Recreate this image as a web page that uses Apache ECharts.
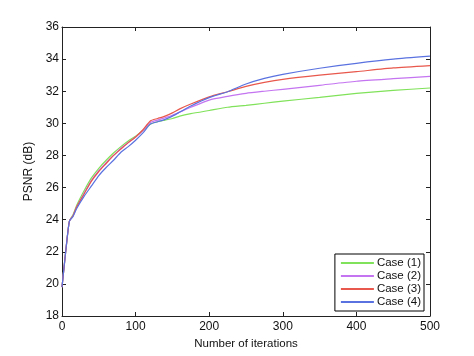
<!DOCTYPE html>
<html>
<head>
<meta charset="utf-8">
<script src="https://cdn.jsdelivr.net/npm/echarts@6/dist/echarts.min.js"></script>
<style>
html,body{margin:0;padding:0;background:#fff;}
#chart{width:474px;height:356px;}
</style>
</head>
<body>
<div id="chart"></div>
<script>
var iterations = [0, 5, 10, 15, 20, 30, 40, 50, 60, 70, 80, 90, 100, 110, 120, 130, 140, 150, 160, 175, 200, 225, 250, 275, 300, 350, 400, 450, 500];
var case1 = [19.8, 22.0, 23.9, 24.3, 24.9, 25.8, 26.6, 27.2, 27.7, 28.15, 28.55, 28.9, 29.2, 29.55, 29.95, 30.1, 30.2, 30.3, 30.45, 30.6, 30.8, 31.0, 31.12, 31.25, 31.38, 31.62, 31.87, 32.05, 32.2];
var case2 = [19.8, 22.0, 23.9, 24.25, 24.8, 25.65, 26.45, 27.05, 27.55, 28.0, 28.45, 28.8, 29.15, 29.55, 30.05, 30.2, 30.35, 30.5, 30.7, 31.0, 31.45, 31.68, 31.87, 32.0, 32.12, 32.37, 32.62, 32.78, 32.93];
var case3 = [19.8, 22.0, 23.9, 24.25, 24.8, 25.6, 26.4, 27.0, 27.5, 28.0, 28.4, 28.8, 29.15, 29.6, 30.15, 30.3, 30.45, 30.65, 30.9, 31.2, 31.65, 31.97, 32.3, 32.55, 32.74, 33.0, 33.22, 33.45, 33.6];
var case4 = [19.8, 22.0, 23.9, 24.2, 24.7, 25.45, 26.1, 26.75, 27.25, 27.7, 28.2, 28.55, 28.95, 29.4, 29.95, 30.1, 30.25, 30.45, 30.7, 31.08, 31.6, 31.97, 32.45, 32.8, 33.05, 33.43, 33.74, 34.0, 34.18];
var seriesNames = ['Case (1)', 'Case (2)', 'Case (3)', 'Case (4)'];
var seriesColors = ['#80e25a', '#c474f0', '#e8584c', '#5a72e0'];
var xLabel = 'Number of iterations';
var yLabel = 'PSNR (dB)';

function pairs(ys) {
  return iterations.map(function (x, i) { return [x, ys[i]]; });
}
var allCases = [case1, case2, case3, case4];

var font = 'Liberation Sans, Arial, Helvetica, sans-serif';
var axisLineStyle = { color: '#222', width: 1 };

var chart = echarts.init(document.getElementById('chart'), null, { renderer: 'canvas' });
chart.setOption({
  animation: false,
  backgroundColor: '#fff',
  textStyle: { fontFamily: font },
  grid: { left: 62, right: 44, top: 27, bottom: 40 },
  legend: {
    orient: 'vertical',
    right: 50,
    bottom: 45,
    backgroundColor: '#fff',
    borderColor: '#000',
    borderWidth: 1,
    borderRadius: 0,
    padding: [3, 3, 3, 6],
    itemGap: 1,
    itemWidth: 33,
    itemHeight: 2,
    icon: 'rect',
    textStyle: { fontFamily: font, fontSize: 11.5, color: '#111', padding: [0, 0, 0, -2] },
    data: seriesNames
  },
  xAxis: [{
    type: 'value', min: 0, max: 500, interval: 100, position: 'bottom',
    name: xLabel, nameLocation: 'middle', nameGap: 20,
    nameTextStyle: { fontFamily: font, fontSize: 11.5, color: '#111' },
    axisLine: { show: true, lineStyle: axisLineStyle },
    axisTick: { show: true, inside: true, length: 4, lineStyle: axisLineStyle },
    axisLabel: { fontFamily: font, fontSize: 12, color: '#111', margin: 5 },
    splitLine: { show: false }
  }, {
    type: 'value', min: 0, max: 500, interval: 100, position: 'top',
    axisLine: { show: true, onZero: false, lineStyle: axisLineStyle },
    axisTick: { show: true, inside: true, length: 4, lineStyle: axisLineStyle },
    axisLabel: { show: false },
    splitLine: { show: false }
  }],
  yAxis: [{
    type: 'value', min: 18, max: 36, interval: 2, position: 'left',
    name: yLabel, nameLocation: 'middle', nameGap: 27, nameRotate: 90,
    nameTextStyle: { fontFamily: font, fontSize: 12, color: '#111' },
    axisLine: { show: true, lineStyle: axisLineStyle },
    axisTick: { show: true, inside: true, length: 4, lineStyle: axisLineStyle },
    axisLabel: { fontFamily: font, fontSize: 12, color: '#111', margin: 3 },
    splitLine: { show: false }
  }, {
    type: 'value', min: 18, max: 36, interval: 2, position: 'right',
    axisLine: { show: true, onZero: false, lineStyle: axisLineStyle },
    axisTick: { show: true, inside: true, length: 4, lineStyle: axisLineStyle },
    axisLabel: { show: false },
    splitLine: { show: false }
  }],
  series: allCases.map(function (ys, i) {
    return {
      name: seriesNames[i],
      type: 'line',
      xAxisIndex: 0,
      yAxisIndex: 0,
      data: pairs(ys),
      showSymbol: false,
      symbol: 'none',
      smooth: 0.2,
      lineStyle: { color: seriesColors[i], width: 1.2 },
      itemStyle: { color: seriesColors[i] }
    };
  })
});
</script>
</body>
</html>
